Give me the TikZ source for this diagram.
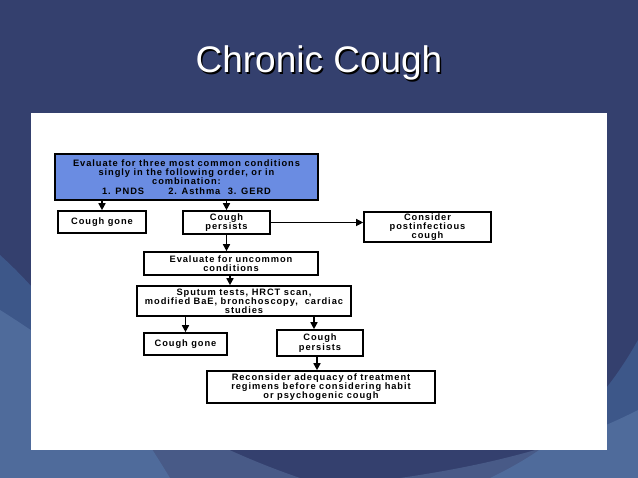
\documentclass[tikz,border=0pt]{standalone}
\usepackage{fontspec}
\setmainfont{Liberation Sans}
\newfontfamily\chartfont[LetterSpace=10.0]{Liberation Sans}
\usepackage{xcolor}
\usetikzlibrary{arrows.meta, positioning, calc}
\definecolor{slidebg}{RGB}{52,64,110}
\definecolor{swoosh}{RGB}{80,130,190}
\definecolor{evalblue}{RGB}{106,140,226}
\tikzset{
  box/.style={rectangle, draw, line width=1.6pt, fill=white, inner sep=1pt, align=center, font=\chartfont\bfseries\fontsize{9.3}{9.2}\selectfont},
  arrow/.style={-{Triangle[length=7pt, width=7pt]}, line width=1.6pt},
}

\begin{document}
\begin{tikzpicture}[x=1pt, y=-1pt]
  % slide background
  \fill[slidebg] (0,0) rectangle (638,478);
  \useasboundingbox (0,0) rectangle (638,478);
  \fill[swoosh, opacity=0.35] (0,255) .. controls (50,300) and (110,380) .. (170,478) -- (0,478) -- cycle;
  \fill[swoosh!70!white, opacity=0.25] (0,310) .. controls (80,360) and (160,430) .. (300,478) -- (0,478) -- cycle;
  \fill[swoosh, opacity=0.35] (638,340) .. controls (610,390) and (570,440) .. (490,478) -- (638,478) -- cycle;
  \fill[swoosh!70!white, opacity=0.25] (638,410) .. controls (570,445) and (490,465) .. (400,478) -- (638,478) -- cycle;

  % title
  \node[font=\fontsize{37}{40}\selectfont, text=black] at (320.5,64.5) {Chronic Cough};
  \node[font=\fontsize{37}{40}\selectfont, text=white] (title) at (319,63) {Chronic Cough};

  % white panel
  \fill[white] (31,113) rectangle (607,450);

  % first step
  \node[box, fill=evalblue, minimum width=263pt, minimum height=46pt] (evalcommon) at (186.5,177)
    {Evaluate for three most common conditions\\singly in the following order, or in\\combination:\\1. PNDS\hspace{2.6em}2. Asthma\hspace{0.8em}3. GERD};

  \node[box, minimum width=88pt, minimum height=22pt] (gone1) at (102,222) {Cough gone};
  \node[box, minimum width=87pt, minimum height=23pt] (persists1) at (226.5,222.5) {Cough\\persists};
  \node[box, minimum width=127pt, minimum height=30pt] (postinf) at (427.5,227) {Consider\\postinfectious\\cough};

  % uncommon conditions
  \node[box, minimum width=174pt, minimum height=23pt] (uncommon) at (231,263.5) {Evaluate for uncommon\\conditions};
  \node[box, minimum width=214pt, minimum height=30pt] (tests) at (244,301)
    {Sputum tests, HRCT scan,\\modified BaE, bronchoscopy,\ \ cardiac\\studies};

  \node[box, minimum width=83pt, minimum height=22pt] (gone2) at (185.5,344) {Cough gone};
  \node[box, minimum width=86pt, minimum height=26pt] (persists2) at (320,343) {Cough\\persists};
  \node[box, minimum width=228pt, minimum height=32pt] (reconsider) at (321,387)
    {Reconsider adequacy of treatment\\regimens before considering habit\\or psychogenic cough};

  % connectors
  \draw[arrow] (evalcommon.south -| gone1) -- (gone1);
  \draw[arrow] (evalcommon.south -| persists1) -- (persists1);
  \draw[arrow, line width=1.2pt] (persists1.east) -- (persists1.east -| postinf.west);
  \draw[arrow] (persists1.south) -- (persists1.south |- uncommon.north);
  \draw[arrow] ([xshift=-1pt]uncommon.south) -- ([xshift=-1pt]uncommon.south |- tests.north);
  \draw[arrow] (tests.south -| gone2) -- (gone2);
  \draw[arrow] ([xshift=-6pt]tests.south -| persists2) -- ([xshift=-6pt]persists2.north);
  \draw[arrow] ([xshift=-3pt]persists2.south) -- ([xshift=-3pt]persists2.south |- reconsider.north);
\end{tikzpicture}
\end{document}
